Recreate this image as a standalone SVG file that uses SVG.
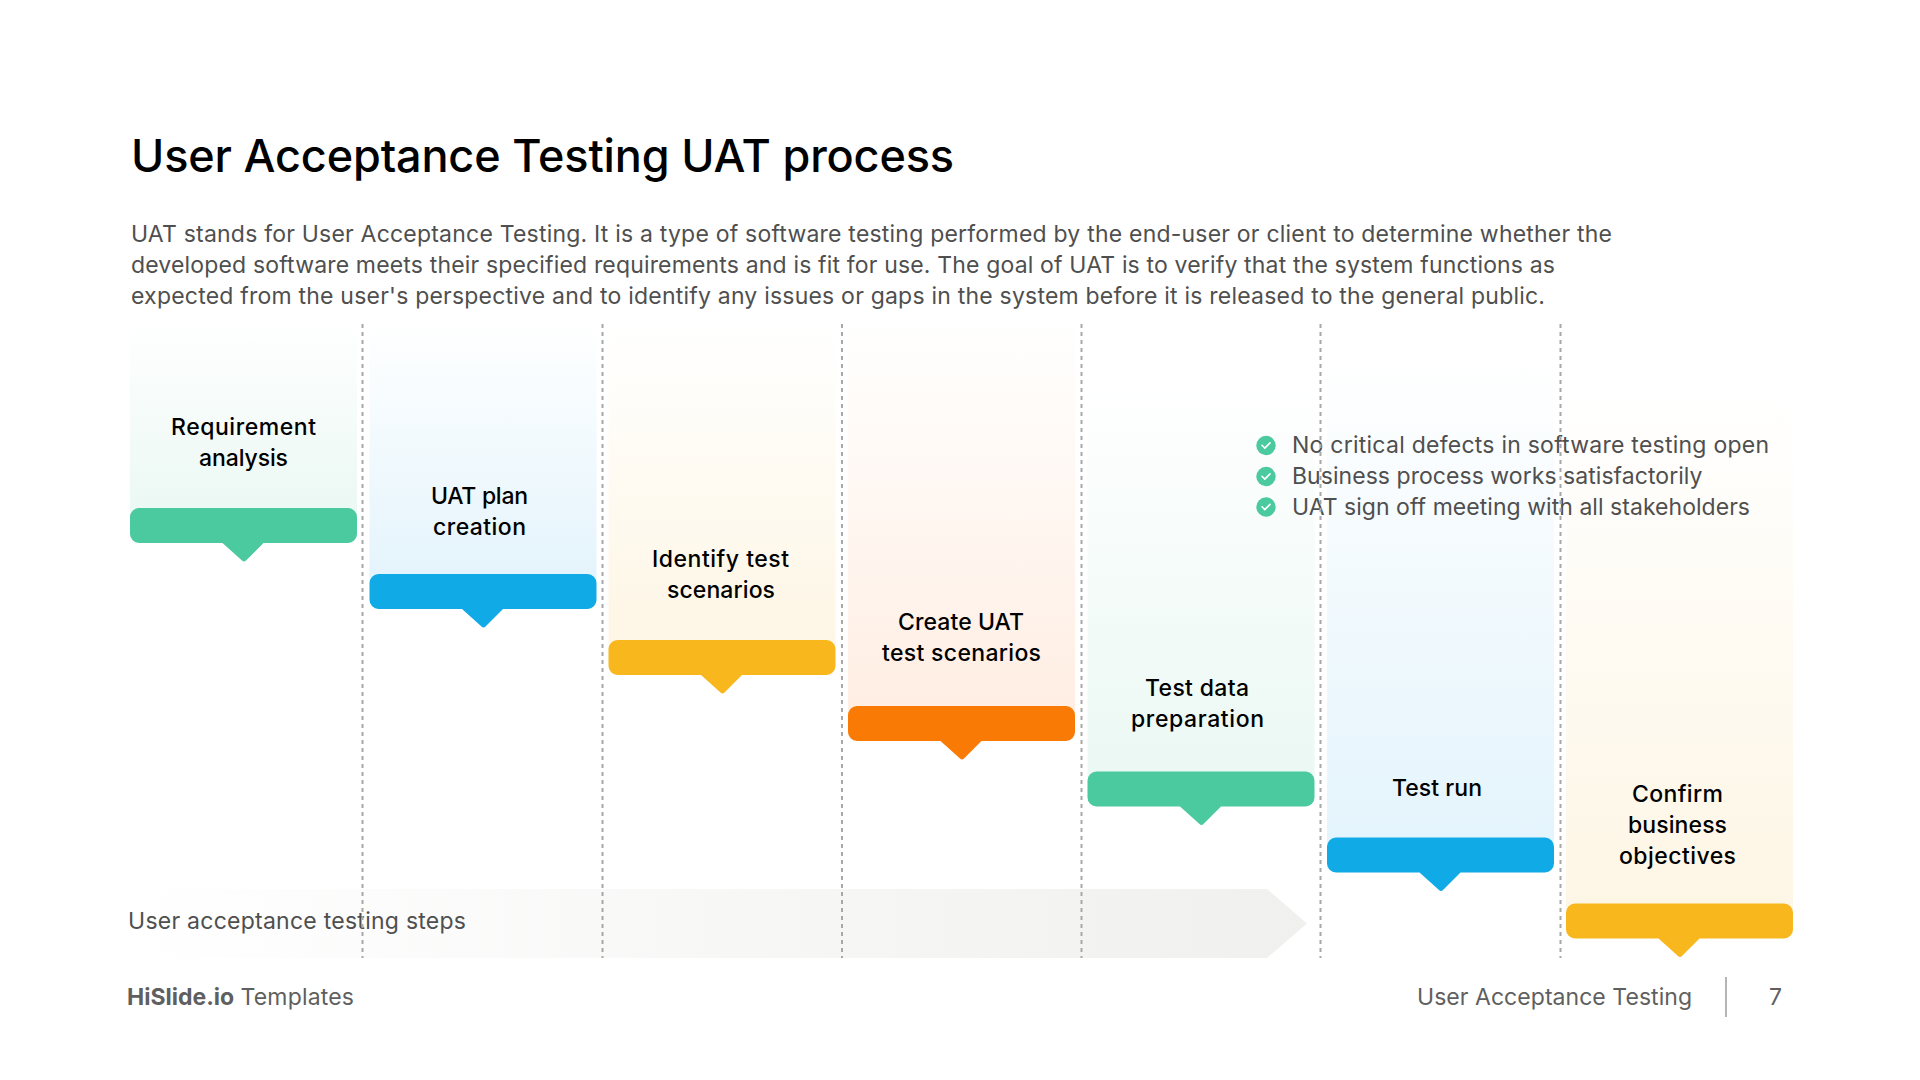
<svg xmlns="http://www.w3.org/2000/svg" width="1920" height="1080" viewBox="0 0 1920 1080">
<style>
text{font-family:"Inter","Noto Sans","Liberation Sans",sans-serif}
.title{font-size:45px;font-weight:500;fill:#000}
.body{font-size:23px;fill:#4f4f4f}
.label{font-size:23px;font-weight:500;fill:#000}
.foot{font-size:23px;fill:#5f5f5f}
.div{stroke:#a8a8a8;stroke-width:2;stroke-dasharray:4 4;fill:none}
.check{fill:none;stroke:#fff;stroke-width:1.6;stroke-linecap:round;stroke-linejoin:round}
</style>
<defs>
<linearGradient id="gG" x1="0" y1="0" x2="0" y2="1"><stop offset="0" stop-color="#fff"/><stop offset="1" stop-color="#ebf8f3"/></linearGradient>
<linearGradient id="gB" x1="0" y1="0" x2="0" y2="1"><stop offset="0" stop-color="#fff"/><stop offset="1" stop-color="#e4f4fc"/></linearGradient>
<linearGradient id="gY" x1="0" y1="0" x2="0" y2="1"><stop offset="0" stop-color="#fff"/><stop offset="1" stop-color="#fef6e5"/></linearGradient>
<linearGradient id="gO" x1="0" y1="0" x2="0" y2="1"><stop offset="0" stop-color="#fff"/><stop offset="1" stop-color="#ffeee3"/></linearGradient>
<linearGradient id="gA" x1="0" y1="0" x2="1" y2="0"><stop offset="0" stop-color="#fff"/><stop offset="1" stop-color="#f0f0ef"/></linearGradient>
<path id="bar" d="M9 0H218a9 9 0 0 1 9 9V26a9 9 0 0 1-9 9H133.500L116 52.500a3 3 0 0 1-4 0L92.500 35H9a9 9 0 0 1-9-9V9a9 9 0 0 1 9-9Z"/>
<g id="tick"><circle r="9.700" fill="#4bc99f"/><path class="check" d="M-4-0.200L-1.200 2.600L4-2.600"/></g>
</defs>
<rect width="1920" height="1080" fill="#fff"/>
<text class="title" x="131" y="172" textLength="823" lengthAdjust="spacing">User Acceptance Testing UAT process</text>
<text class="body" x="131" y="242" textLength="1481" lengthAdjust="spacing">UAT stands for User Acceptance Testing. It is a type of software testing performed by the end-user or client to determine whether the</text>
<text class="body" x="131" y="273" textLength="1424" lengthAdjust="spacing">developed software meets their specified requirements and is fit for use. The goal of UAT is to verify that the system functions as</text>
<text class="body" x="131" y="303.500" textLength="1414" lengthAdjust="spacing">expected from the user's perspective and to identify any issues or gaps in the system before it is released to the general public.</text>

<g id="step-arrow">
<path d="M130 889H1267L1307 923.500L1267 958H130Z" fill="url(#gA)"/>
<text class="body" x="128" y="929" textLength="338" lengthAdjust="spacing">User acceptance testing steps</text>
</g>

<g id="node-1">
<rect x="130" y="320" width="227" height="195" fill="url(#gG)"/>
<use href="#bar" x="130" y="508" fill="#4bc99f"/>
<text class="label" x="171" y="435" textLength="145" lengthAdjust="spacing">Requirement</text>
<text class="label" x="199" y="466" textLength="89" lengthAdjust="spacing">analysis</text>
</g>
<g id="node-2">
<rect x="369.500" y="320" width="227" height="260" fill="url(#gB)"/>
<use href="#bar" x="369.500" y="574" fill="#10aae6"/>
<text class="label" x="431" y="504" textLength="97" lengthAdjust="spacing">UAT plan</text>
<text class="label" x="433" y="535" textLength="93" lengthAdjust="spacing">creation</text>
</g>
<g id="node-3">
<rect x="608.500" y="325" width="227" height="320" fill="url(#gY)"/>
<use href="#bar" x="608.500" y="640" fill="#f8b71c"/>
<text class="label" x="652" y="567" textLength="137" lengthAdjust="spacing">Identify test</text>
<text class="label" x="667" y="598" textLength="108" lengthAdjust="spacing">scenarios</text>
</g>
<g id="node-4">
<rect x="848" y="317" width="227" height="394" fill="url(#gO)"/>
<use href="#bar" x="848" y="706" fill="#f97b06"/>
<text class="label" x="898" y="630" textLength="126" lengthAdjust="spacing">Create UAT</text>
<text class="label" x="882" y="661" textLength="159" lengthAdjust="spacing">test scenarios</text>
</g>
<g id="node-5">
<rect x="1087.500" y="383" width="227" height="394" fill="url(#gG)"/>
<use href="#bar" x="1087.500" y="771.500" fill="#4bc99f"/>
<text class="label" x="1145" y="696" textLength="104" lengthAdjust="spacing">Test data</text>
<text class="label" x="1131" y="727" textLength="133" lengthAdjust="spacing">preparation</text>
</g>
<g id="node-6">
<rect x="1327" y="355" width="227" height="488" fill="url(#gB)"/>
<use href="#bar" x="1327" y="837.500" fill="#10aae6"/>
<text class="label" x="1392" y="796" textLength="90" lengthAdjust="spacing">Test run</text>
</g>
<g id="node-7">
<rect x="1566" y="396" width="227" height="513" fill="url(#gY)"/>
<use href="#bar" x="1566" y="903.500" fill="#f8b71c"/>
<text class="label" x="1632" y="802" textLength="91" lengthAdjust="spacing">Confirm</text>
<text class="label" x="1628" y="833" textLength="99" lengthAdjust="spacing">business</text>
<text class="label" x="1619" y="864" textLength="117" lengthAdjust="spacing">objectives</text>
</g>

<g id="outcomes">
<use href="#tick" x="1266" y="445.500"/>
<use href="#tick" x="1266" y="476.500"/>
<use href="#tick" x="1266" y="507"/>
<text class="body" x="1292" y="453" textLength="477" lengthAdjust="spacing">No critical defects in software testing open</text>
<text class="body" x="1292" y="484" textLength="410.500" lengthAdjust="spacing">Business process works satisfactorily</text>
<text class="body" x="1292" y="515" textLength="458" lengthAdjust="spacing">UAT sign off meeting with all stakeholders</text>
</g>

<g id="connectors">
<path class="div" d="M362.500 324V958"/>
<path class="div" d="M602.500 324V958"/>
<path class="div" d="M842 324V958"/>
<path class="div" d="M1081.500 324V958"/>
<path class="div" d="M1320.500 324V958"/>
<path class="div" d="M1560.500 324V958"/>
</g>

<g id="footer">
<text class="foot" x="127" y="1005" font-weight="700">HiSlide.io</text>
<text class="foot" x="240.500" y="1005" textLength="113.500" lengthAdjust="spacing">Templates</text>
<text class="foot" x="1417" y="1005" textLength="275" lengthAdjust="spacing">User Acceptance Testing</text>
<path d="M1726 977V1017" stroke="#b5b5b5" stroke-width="2" fill="none"/>
<text class="foot" x="1769" y="1005">7</text>
</g>
</svg>
